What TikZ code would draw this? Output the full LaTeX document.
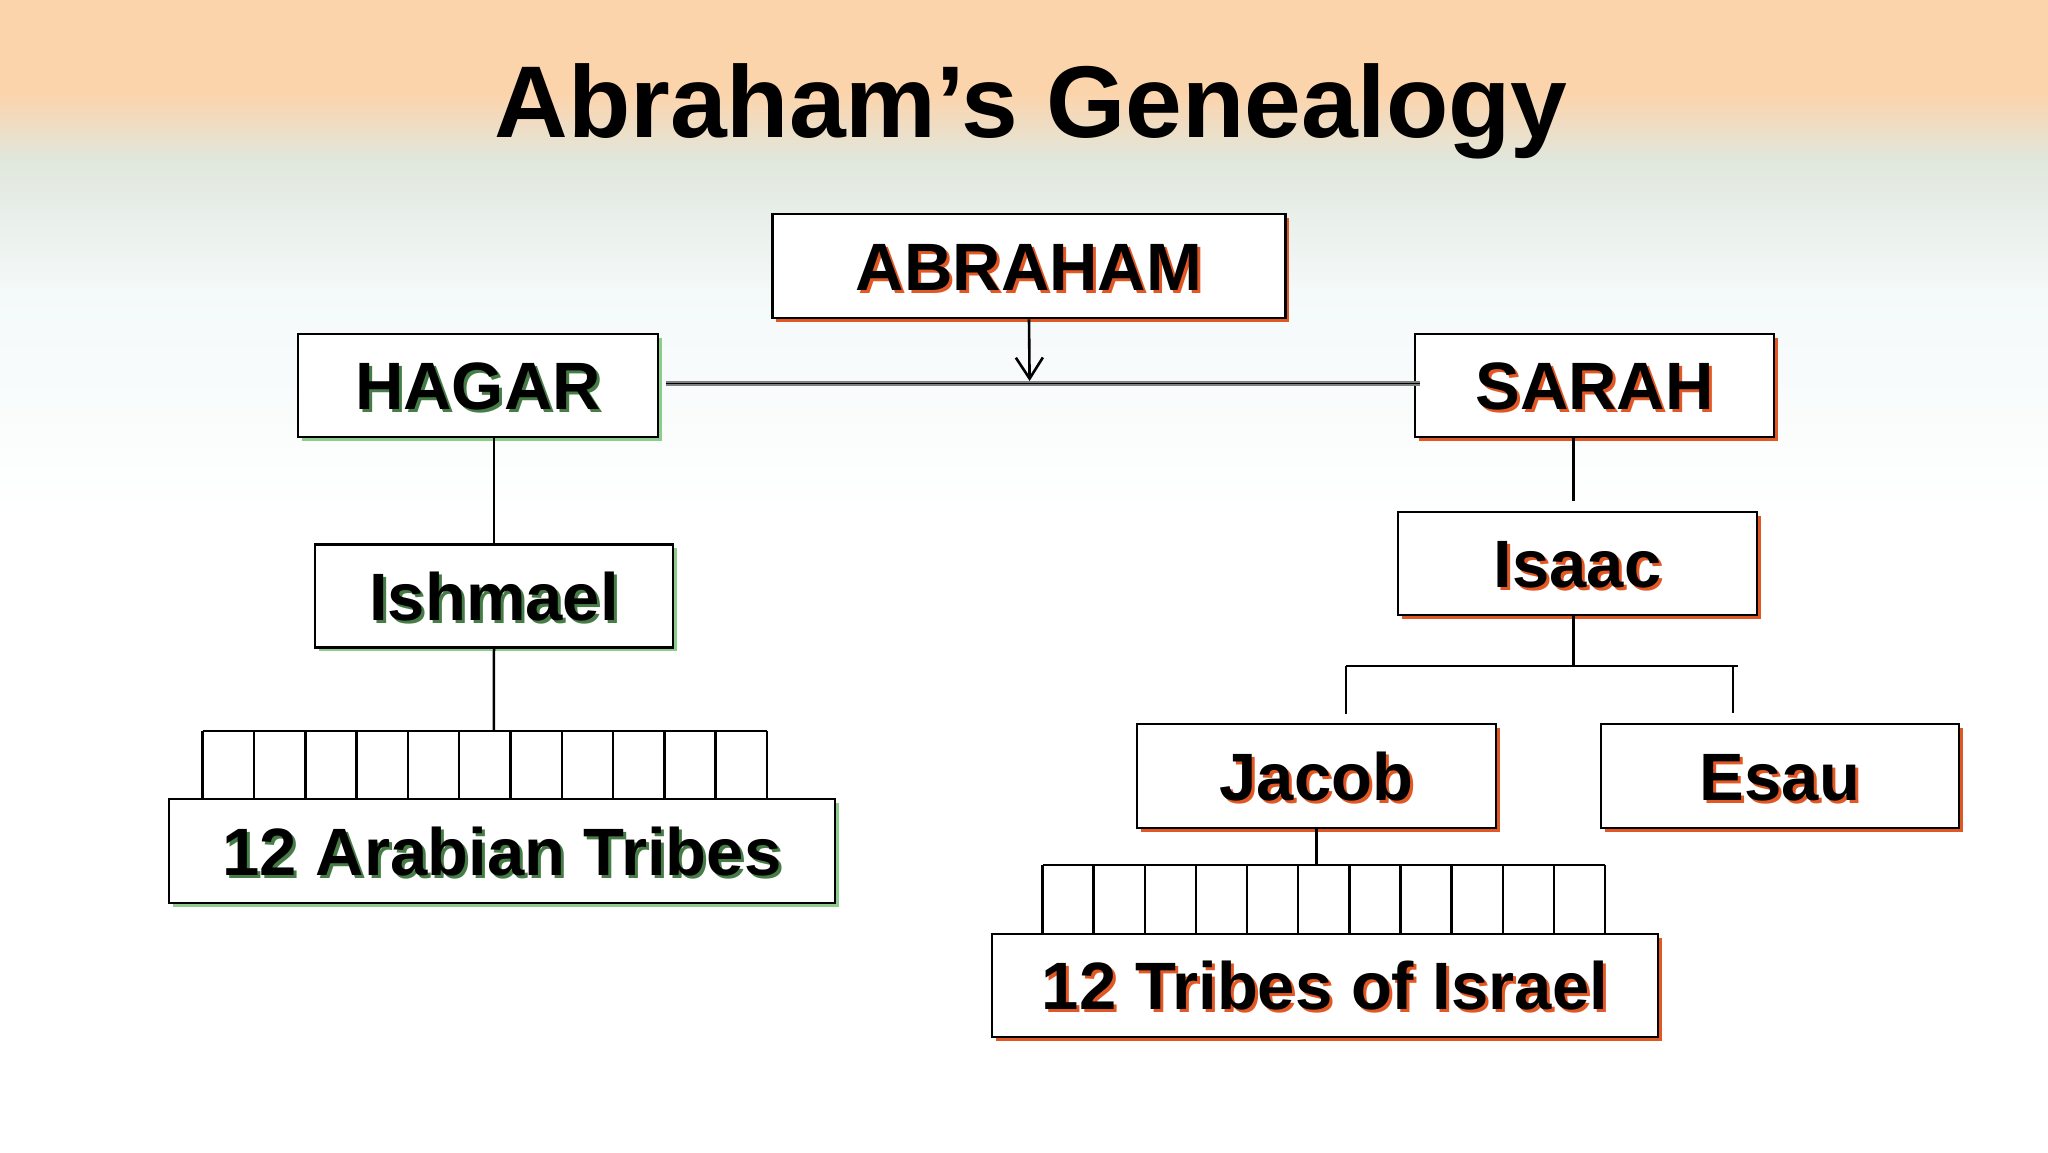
\documentclass[tikz,border=0pt]{standalone}
\usepackage{fontspec}
\setmainfont{Liberation Sans}
\usetikzlibrary{arrows.meta,shadows}
\definecolor{peach}{RGB}{252,212,172}
\definecolor{haze}{RGB}{224,231,221}
\definecolor{pale}{RGB}{244,249,249}
\definecolor{orsh}{RGB}{226,88,36}
\definecolor{grsh}{RGB}{140,205,140}
\definecolor{grtx}{RGB}{70,125,70}
\newcommand\shadtext[2]{\rlap{\kern3pt\raisebox{-3pt}{\textcolor{#1}{#2}}}#2}
\tikzset{
  famboxbase/.style={draw=black, line width=2.8pt, fill=white, inner sep=0pt,
    minimum width=359pt, minimum height=103pt, text height=48pt, text depth=0pt,
    font=\fontsize{67pt}{80pt}\selectfont\bfseries},
  obox/.style={famboxbase, drop shadow={shadow xshift=3.5pt, shadow yshift=-3.5pt, fill=orsh, opacity=1}},
  gbox/.style={famboxbase, drop shadow={shadow xshift=3.5pt, shadow yshift=-3.5pt, fill=grsh, opacity=1}},
  conn/.style={draw=black, line width=2.5pt},
  marriage/.style={draw=black!50, double=black, double distance=1.8pt, line width=1.4pt},
  arr/.style={draw=black, line width=2.6pt, -{Straight Barb[length=21pt,width=27pt,line width=2.6pt]}}
}
\begin{document}
\begin{tikzpicture}[x=1pt,y=-1pt]
\useasboundingbox (0,0) rectangle (2048,1152);
% background
\fill[white] (0,0) rectangle (2048,1152);
\fill[peach] (0,0) rectangle (2048,95);
\shade[top color=peach, bottom color=haze] (0,94) rectangle (2048,160);
\shade[top color=haze, bottom color=pale] (0,159) rectangle (2048,290);
\shade[top color=pale, bottom color=white] (0,289) rectangle (2048,520);
% title
\node[inner sep=0pt, text height=73.5pt, text depth=0pt,
      font=\fontsize{102pt}{120pt}\selectfont\bfseries] (title) at (1031,100.5) {Abraham’s Genealogy};
% boxes
\node[obox, minimum width=513pt, minimum height=104pt] (abraham) at (1029,266) {\shadtext{orsh}{ABRAHAM}};
\node[gbox, minimum width=360pt] (hagar) at (478,385.5) {\shadtext{grtx}{HAGAR}};
\node[obox] (sarah) at (1594.5,385.5) {\shadtext{orsh}{SARAH}};
\node[gbox, minimum width=358pt] (ishmael) at (494,596) {\shadtext{grtx}{Ishmael}};
\node[obox] (isaac) at (1577.5,563.5) {\shadtext{orsh}{Isaac}};
\node[obox, minimum height=104pt] (jacob) at (1316.5,776) {\shadtext{orsh}{Jacob}};
\node[obox, minimum width=358pt, minimum height=104pt] (esau) at (1780,776) {\shadtext{orsh}{Esau}};
\node[gbox, minimum width=666pt, minimum height=104pt] (arab) at (502,851) {\shadtext{grtx}{12 Arabian Tribes}};
\node[obox, minimum width=666pt] (israel) at (1325,985.5) {\shadtext{orsh}{12 Tribes of Israel}};
% marriage line and arrow
\draw[marriage] ([xshift=7pt,yshift=2pt]hagar.east) -- ([xshift=6pt,yshift=2pt]sarah.west);
\coordinate (mid) at (1029.6,381);
\draw[arr] (abraham.south) -- (mid);
% Hagar line
\draw[conn] (ishmael.north |- hagar.south) -- (ishmael.north);
\coordinate (acomb) at (493.75,731);
\draw[conn] (ishmael.south) -- (acomb);
\draw[conn] (202.7,731) -- (767,731);
\foreach \i in {0,...,11}
  \draw[conn] ({202.7+51.3*\i},731) -- ({202.7+51.3*\i},799);
% Sarah line
\coordinate (sx) at (1573.3,0);
\draw[conn] (sx |- sarah.south) -- ([yshift=10pt]sx |- isaac.north);
\coordinate (split) at (1573.3,666);
\draw[conn] (split |- isaac.south) -- (split);
\coordinate (sj) at (1346,666);
\coordinate (se) at (1733,666);
\draw[conn] (sj) -- (1738,666);
\draw[conn] (sj) -- (1346,714);
\draw[conn] (se) -- (1733,713);
\coordinate (icomb) at (1316.5,865);
\draw[conn] (jacob.south) -- (icomb);
\draw[conn] (1042.5,865) -- (1605,865);
\foreach \i in {0,...,11}
  \draw[conn] ({1042.5+51.14*\i},865) -- ({1042.5+51.14*\i},933);
\end{tikzpicture}
\end{document}
